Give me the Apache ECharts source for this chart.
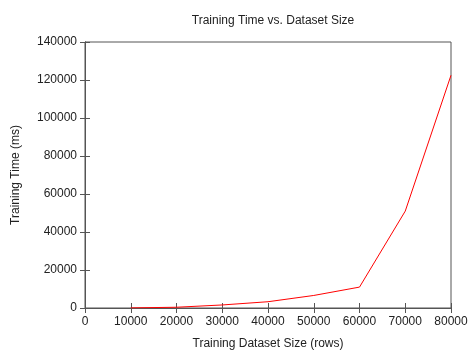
<!DOCTYPE html>
<html>
<head>
<meta charset="utf-8">
<script src="https://cdn.jsdelivr.net/npm/echarts@6/dist/echarts.min.js"></script>
<style>
  html, body { margin: 0; padding: 0; background: #fff; }
  #chart { width: 474px; height: 355px; }
</style>
</head>
<body>
<div id="chart"></div>
<script>
// Training time chart
var rows = [10000, 20000, 30000, 40000, 50000, 60000, 70000, 80000];
var timeMs = [50, 400, 1600, 3300, 6600, 11000, 51000, 122500];

var dom = document.getElementById("chart");
var myChart = echarts.init(dom);

var axisColor = "#555";
var textStyle = { fontFamily: "Liberation Sans", fontSize: 12, color: "#222" };
var plain = function (v) {
  return String(v);
};

var points = rows.map(function (r, i) {
  return [r, timeMs[i]];
});

var option = {
  animation: false,
  backgroundColor: "#fff",
  title: {
    text: "Training Time vs. Dataset Size",
    left: 268,
    top: 10,
    textAlign: "center",
    textStyle: { fontFamily: "Liberation Sans", fontSize: 12, fontWeight: "normal", color: "#222" },
  },
  grid: {
    left: 85,
    right: 23,
    top: 42,
    bottom: 46,
    show: true,
    borderColor: axisColor,
    borderWidth: 1,
  },
  xAxis: [
    {
      type: "value",
      min: 0,
      max: 80000,
      interval: 10000,
      name: "Training Dataset Size (rows)",
      nameLocation: "middle",
      nameGap: 30,
      nameTextStyle: textStyle,
      axisLine: { show: true, lineStyle: { color: axisColor } },
      axisTick: { show: true, inside: true, length: 5, lineStyle: { color: axisColor } },
      axisLabel: Object.assign({ margin: 8, formatter: plain }, textStyle),
      splitLine: { show: false },
    },
    {
      type: "value",
      position: "top",
      min: 0,
      max: 80000,
      interval: 10000,
      axisLine: { show: true, lineStyle: { color: axisColor } },
      axisTick: { show: true, inside: true, length: 5, lineStyle: { color: axisColor } },
      axisLabel: { show: false },
      splitLine: { show: false },
    },
  ],
  yAxis: [
    {
      type: "value",
      min: 0,
      max: 140000,
      interval: 20000,
      name: "Training Time (ms)",
      nameLocation: "middle",
      nameGap: 63,
      nameTextStyle: textStyle,
      axisLine: { show: true, lineStyle: { color: axisColor } },
      axisTick: { show: true, inside: true, length: 5, lineStyle: { color: axisColor } },
      axisLabel: Object.assign({ margin: 8, formatter: plain }, textStyle),
      splitLine: { show: false },
    },
    {
      type: "value",
      position: "right",
      min: 0,
      max: 140000,
      interval: 20000,
      axisLine: { show: true, lineStyle: { color: axisColor } },
      axisTick: { show: true, inside: true, length: 5, lineStyle: { color: axisColor } },
      axisLabel: { show: false },
      splitLine: { show: false },
    },
  ],
  series: [
    {
      name: "Training Time",
      type: "line",
      data: points,
      showSymbol: false,
      lineStyle: { color: "#ff0000", width: 1 },
      itemStyle: { color: "#ff0000" },
    },
  ],
};

if (option && typeof option === "object") {
  myChart.setOption(option);
}
</script>
</body>
</html>
